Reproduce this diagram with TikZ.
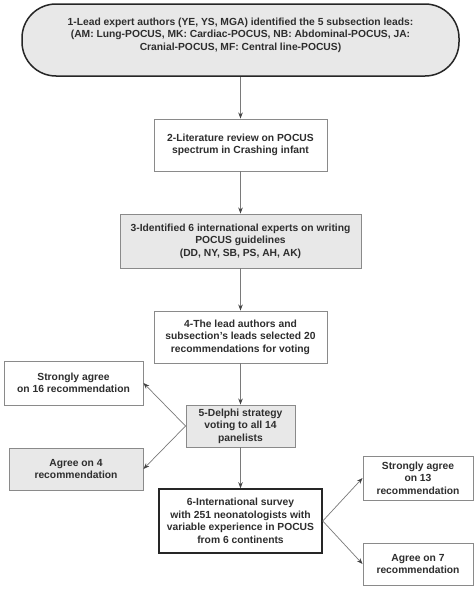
\documentclass[tikz,border=0pt]{standalone}
\usepackage{fontspec}
\setmainfont{Liberation Sans}
\usetikzlibrary{arrows.meta}
\definecolor{txt}{HTML}{2E2E2E}
\definecolor{boxline}{HTML}{8A8A8A}
\definecolor{boxfill}{HTML}{E8E8E8}
\definecolor{arr}{HTML}{7A7A7A}
\definecolor{tip}{HTML}{444444}
\tikzset{
  base/.style={draw=boxline, line width=0.9pt, align=center, text=txt,
    font=\fontsize{10.3}{12.6}\selectfont\bfseries, inner sep=1pt},
  plain/.style={base, fill=white},
  shaded/.style={base, fill=boxfill},
  strong/.style={base, draw=black!85, line width=1.5pt},
  conn/.style={draw=arr, line width=0.7pt, -{Stealth[length=6pt,width=4.5pt,color=tip]}},
}
\begin{document}
\begin{tikzpicture}[x=1pt,y=-1pt]
\useasboundingbox[fill=white] (0,0) rectangle (474,589);
\node[shaded, strong, fill=boxfill, rounded corners=34pt, minimum width=437pt, minimum height=72pt, text depth=12pt] (n1) at (240.5,40)
  {1-Lead expert authors (YE, YS, MGA) identified the 5 subsection leads:\\(AM: Lung-POCUS, MK: Cardiac-POCUS, NB: Abdominal-POCUS, JA:\\Cranial-POCUS, MF: Central line-POCUS)};
\node[plain, minimum width=173pt, minimum height=52pt] (n2) at (240.5,145)
  {2-Literature review on POCUS\\spectrum in Crashing infant};
\node[shaded, minimum width=241pt, minimum height=54pt] (n3) at (240.5,241)
  {3-Identified 6 international experts on writing\\POCUS guidelines\\(DD, NY, SB, PS, AH, AK)};
\node[plain, minimum width=173pt, minimum height=52pt] (n4) at (240.5,337)
  {4-The lead authors and\\subsection's leads selected 20\\recommendations for voting};
\node[plain, minimum width=139pt, minimum height=44pt] (sa16) at (73.5,383)
  {Strongly agree\\on 16 recommendation};
\node[shaded, minimum width=109pt, minimum height=42pt] (n5) at (240.5,426)
  {5-Delphi strategy\\voting to all 14\\panelists};
\node[shaded, minimum width=134pt, minimum height=42pt] (a4) at (76,469)
  {Agree on 4\\recommendation};
\node[plain, strong, minimum width=163pt, minimum height=64pt] (n6) at (240.5,521)
  {6-International survey\\with 251 neonatologists with\\variable experience in POCUS\\from 6 continents};
\node[plain, minimum width=110pt, minimum height=44pt] (sa13) at (418,478)
  {Strongly agree\\on 13\\recommendation};
\node[plain, minimum width=110pt, minimum height=42pt] (a7) at (418,564)
  {Agree on 7\\recommendation};
\draw[conn] (n1) -- (n2);
\draw[conn] (n2) -- (n3);
\draw[conn] (n3) -- (n4);
\draw[conn] (n4) -- (n5);
\draw[conn] (n5) -- (n6);
\draw[conn] (n5.west) -- (sa16.east);
\draw[conn] (n5.west) -- (a4.east);
\draw[conn] (n6.east) -- (sa13.west);
\draw[conn] (n6.east) -- (a7.west);
\end{tikzpicture}
\end{document}
